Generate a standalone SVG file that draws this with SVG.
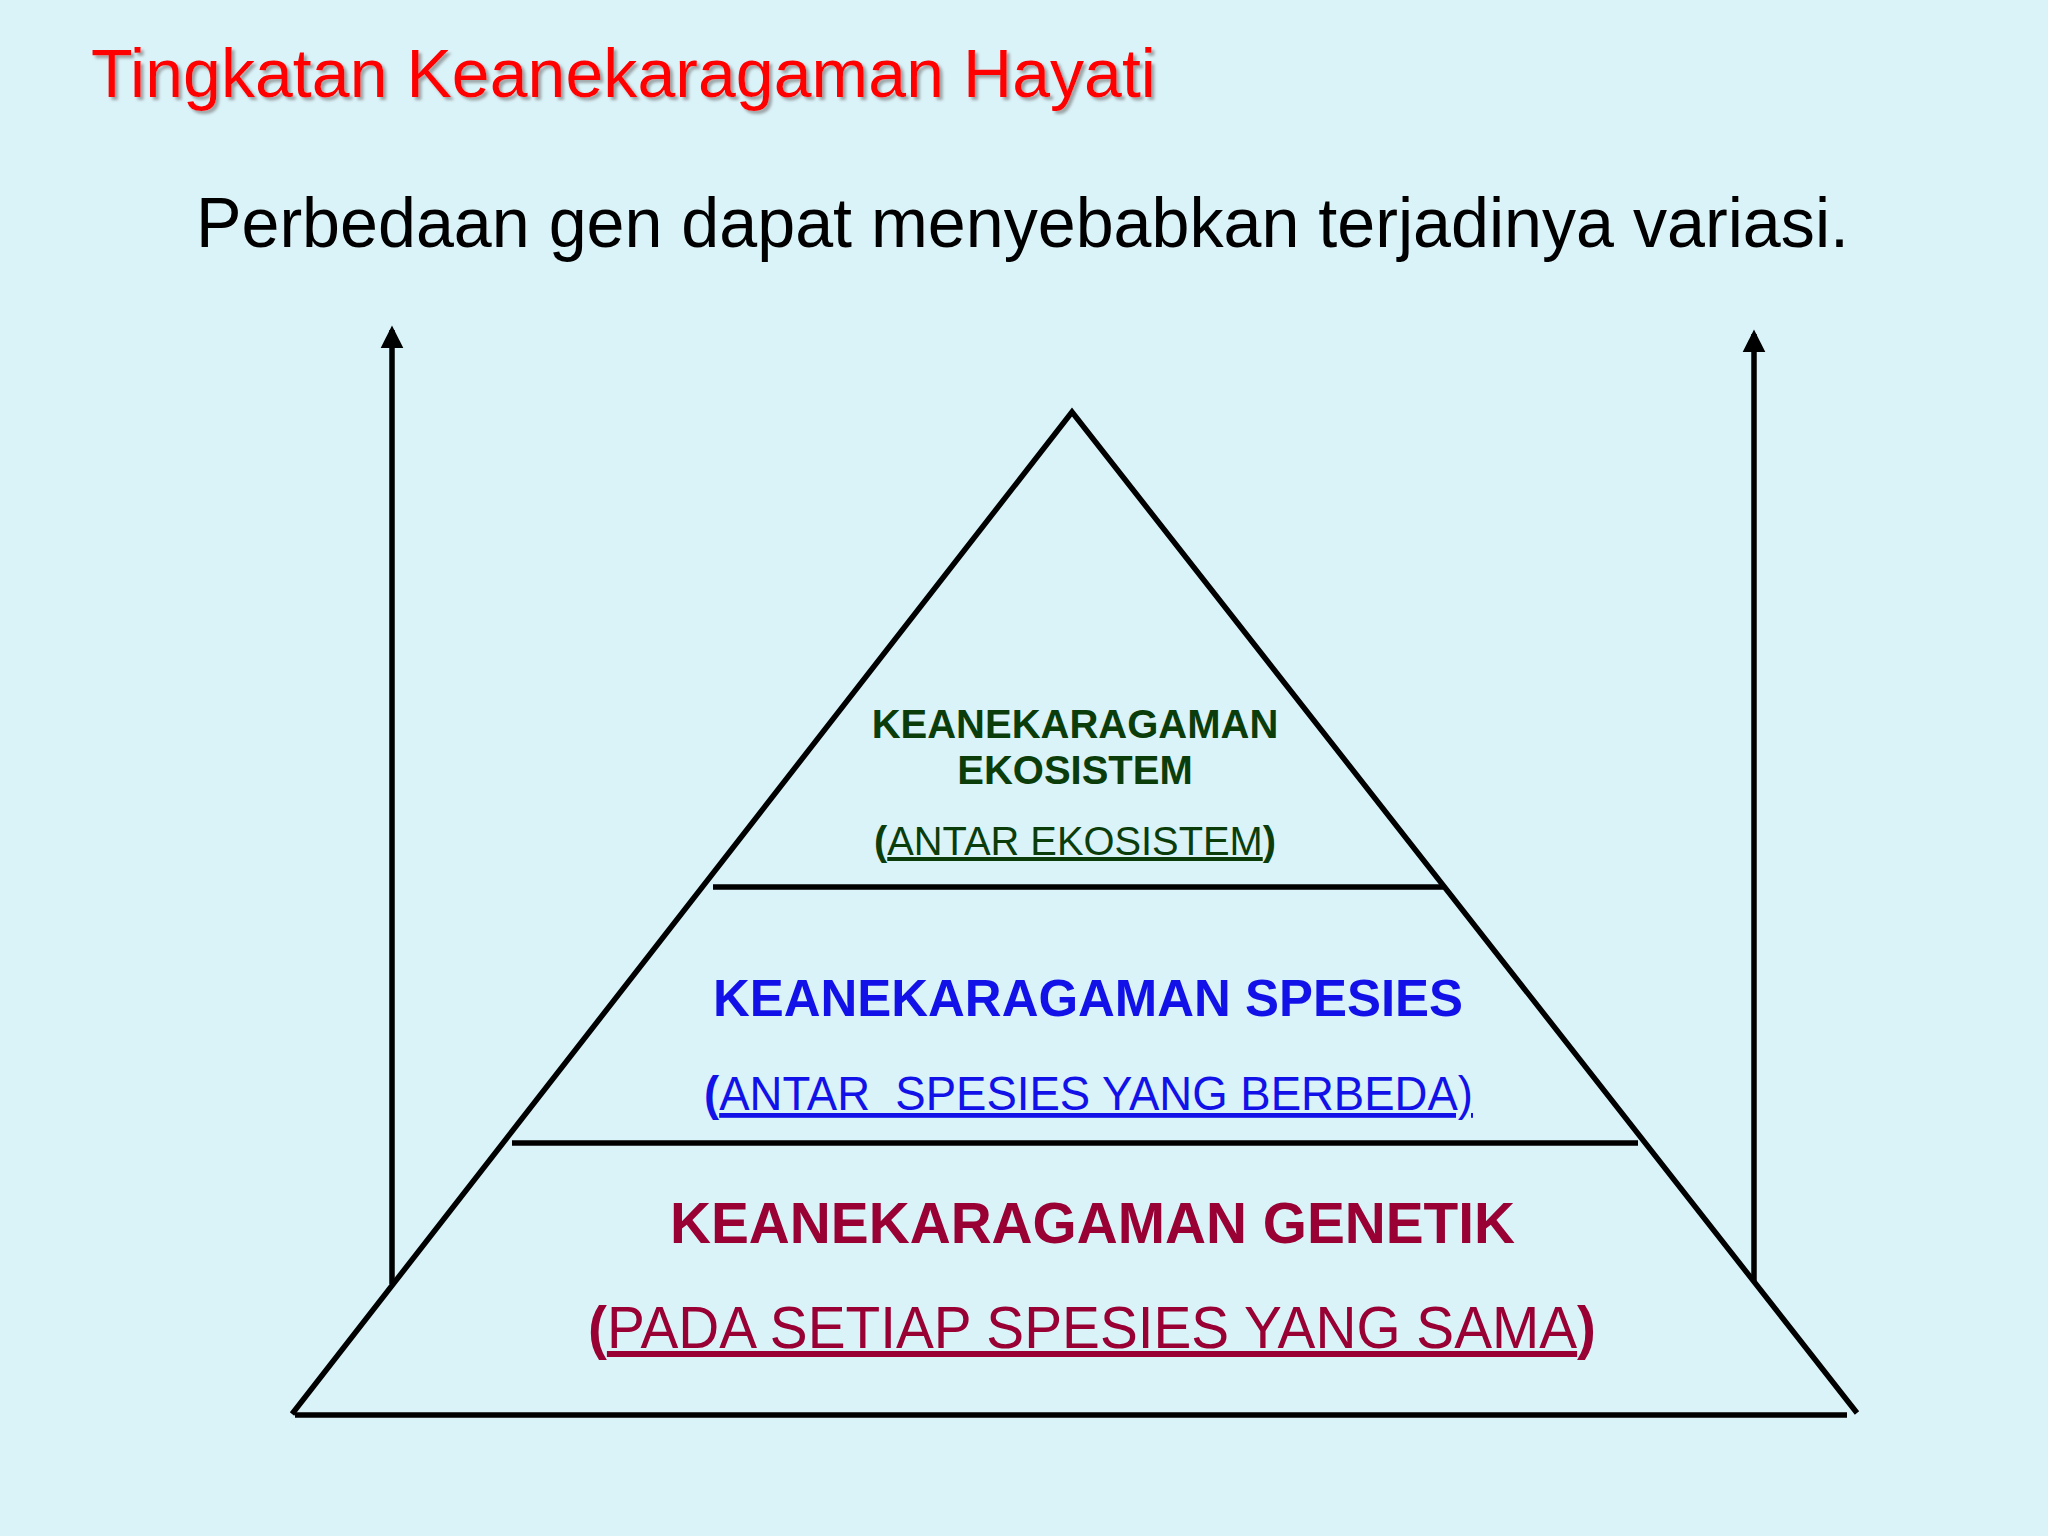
<svg xmlns="http://www.w3.org/2000/svg" width="2048" height="1536" viewBox="0 0 2048 1536">
  <defs>
    <filter id="shadow" x="-5%" y="-20%" width="110%" height="150%">
      <feDropShadow dx="3" dy="3" stdDeviation="1.5" flood-color="#808080" flood-opacity="0.7"/>
    </filter>
    <marker id="arrow" viewBox="0 0 10 10" refX="8" refY="5" markerWidth="4.2" markerHeight="4.2" orient="auto" markerUnits="strokeWidth">
      <path d="M0,0 L10,5 L0,10 Z" fill="#000"/>
    </marker>
  </defs>
  <style>
    .ln { stroke: #000; stroke-width: 5.5; fill: none; }
    .t { font-family: "Liberation Sans", Arial, sans-serif; }
    .b { font-weight: bold; }
    .u { text-decoration: underline; }
  </style>
  <rect width="2048" height="1536" fill="#DAF3F9"/>

  <g id="title">
    <text class="t" x="91" y="97" font-size="68" fill="#FF0000" filter="url(#shadow)" textLength="1065" lengthAdjust="spacingAndGlyphs">Tingkatan Keanekaragaman Hayati</text>
  </g>
  <g id="subtitle">
    <text class="t" x="196" y="247" font-size="70" fill="#000" textLength="1653" lengthAdjust="spacingAndGlyphs">Perbedaan gen dapat menyebabkan terjadinya variasi.</text>
  </g>

  <g id="connectors">
    <line class="ln" x1="392" y1="1284" x2="392" y2="330" marker-end="url(#arrow)"/>
    <line class="ln" x1="1754" y1="1281" x2="1754" y2="334" marker-end="url(#arrow)"/>
  </g>

  <g id="pyramid">
    <polyline class="ln" points="292,1414 1072,412 1857,1413"/>
    <line class="ln" x1="295" y1="1415" x2="1847" y2="1415"/>
    <line class="ln" x1="713" y1="887" x2="1443" y2="887"/>
    <line class="ln" x1="512" y1="1143" x2="1638" y2="1143"/>
  </g>

  <g id="level-ekosistem" fill="#0B3D0B">
    <text class="t b" x="1075" y="738" font-size="40" text-anchor="middle">KEANEKARAGAMAN</text>
    <text class="t b" x="1075" y="784" font-size="40" text-anchor="middle">EKOSISTEM</text>
    <text class="t" x="874" y="855" font-size="40" textLength="402" lengthAdjust="spacingAndGlyphs"><tspan class="b">(</tspan><tspan class="u">ANTAR EKOSISTEM</tspan><tspan class="b">)</tspan></text>
  </g>

  <g id="level-spesies" fill="#1212E8">
    <text class="t b" x="713" y="1016" font-size="52" textLength="750" lengthAdjust="spacingAndGlyphs">KEANEKARAGAMAN SPESIES</text>
    <text class="t" x="704" y="1110" font-size="48" textLength="769" lengthAdjust="spacingAndGlyphs" xml:space="preserve"><tspan class="b">(</tspan><tspan class="u">ANTAR  SPESIES YANG BERBEDA)</tspan></text>
  </g>

  <g id="level-genetik" fill="#990033">
    <text class="t b" x="670" y="1243" font-size="57" textLength="845" lengthAdjust="spacingAndGlyphs">KEANEKARAGAMAN GENETIK</text>
    <text class="t" x="588" y="1348" font-size="60" textLength="1008" lengthAdjust="spacingAndGlyphs"><tspan class="b">(</tspan><tspan class="u">PADA SETIAP SPESIES YANG SAMA</tspan><tspan class="b">)</tspan></text>
  </g>
</svg>
